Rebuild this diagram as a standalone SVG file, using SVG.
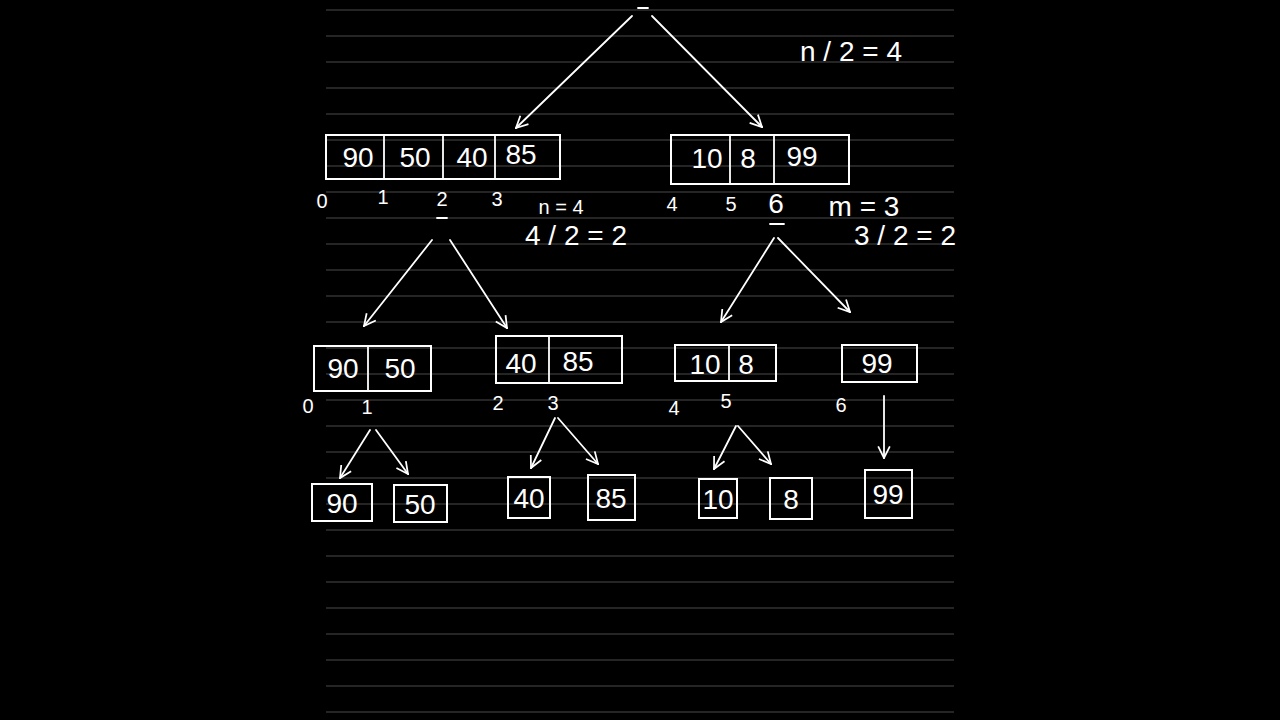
<svg xmlns="http://www.w3.org/2000/svg" width="1280" height="720" viewBox="0 0 1280 720">
<defs>
<style>
.rule{stroke:#4a4a4a;stroke-width:1}
.box{fill:none;stroke:#fff;stroke-width:2}
.ln{fill:none;stroke:#fff;stroke-width:1.8;stroke-linecap:round}
.t{fill:#fff;font-family:"Liberation Sans",sans-serif;font-size:28px;text-anchor:middle}
.s{fill:#fff;font-family:"Liberation Sans",sans-serif;font-size:20px;text-anchor:middle}
</style>
<marker id="ah" viewBox="0 0 12 12" refX="11" refY="6" markerWidth="14" markerHeight="14" markerUnits="userSpaceOnUse" orient="auto"><path d="M1,1 L11,6 L1,11" fill="none" stroke="#fff" stroke-width="1.5"/></marker>
</defs>
<rect width="1280" height="720" fill="#000"/>
<g id="rules">
<path class="rule" d="M326,10H954M326,36H954M326,62H954M326,88H954M326,114H954M326,140H954M326,166H954M326,192H954M326,218H954M326,244H954M326,270H954M326,296H954M326,322H954M326,348H954M326,374H954M326,400H954M326,426H954M326,452H954M326,478H954M326,504H954M326,530H954M326,556H954M326,582H954M326,608H954M326,634H954M326,660H954M326,686H954M326,712H954"/>
</g>
<g id="connectors">
<path class="ln" d="M638,8H648"/>
<path class="ln" d="M632,16L516,128" marker-end="url(#ah)"/>
<path class="ln" d="M652,16L762,127" marker-end="url(#ah)"/>
<path class="ln" d="M437,218H447"/>
<path class="ln" d="M432,240L364,326" marker-end="url(#ah)"/>
<path class="ln" d="M450,240L507,328" marker-end="url(#ah)"/>
<path class="ln" d="M770,224H784"/>
<path class="ln" d="M774,238L721,322" marker-end="url(#ah)"/>
<path class="ln" d="M778,238L850,312" marker-end="url(#ah)"/>
<path class="ln" d="M370,430L340,478" marker-end="url(#ah)"/>
<path class="ln" d="M376,430L408,474" marker-end="url(#ah)"/>
<path class="ln" d="M555,418L531,468" marker-end="url(#ah)"/>
<path class="ln" d="M558,418L598,464" marker-end="url(#ah)"/>
<path class="ln" d="M736,426L714,469" marker-end="url(#ah)"/>
<path class="ln" d="M738,426L771,464" marker-end="url(#ah)"/>
<path class="ln" d="M884,396V458" marker-end="url(#ah)"/>
</g>
<g id="arr8">
<rect class="box" x="326" y="135" width="234" height="44"/>
<path class="ln" d="M384,135V179M443,135V179M495,135V179"/>
<text class="t" x="358" y="167">90</text><text class="t" x="415" y="167">50</text><text class="t" x="472" y="167">40</text><text class="t" x="521" y="164">85</text>
<text class="s" x="322" y="208">0</text><text class="s" x="383" y="204">1</text><text class="s" x="442" y="206">2</text><text class="s" x="497" y="206">3</text>
</g>
<g id="arr3">
<rect class="box" x="671" y="135" width="178" height="49"/>
<path class="ln" d="M730,135V184M774,135V184"/>
<text class="t" x="707" y="168">10</text><text class="t" x="748" y="168">8</text><text class="t" x="802" y="166">99</text>
<text class="s" x="672" y="211">4</text><text class="s" x="731" y="211">5</text><text class="t" x="776" y="213">6</text>
</g>
<g id="notes">
<text class="t" x="851" y="61">n / 2 =  4</text>
<text class="s" x="561" y="214">n = 4</text>
<text class="t" x="576" y="245">4 / 2 = 2</text>
<text class="t" x="864" y="216">m = 3</text>
<text class="t" x="905" y="245">3 / 2 = 2</text>
</g>
<g id="a9050">
<rect class="box" x="314" y="346" width="117" height="45"/>
<path class="ln" d="M368,346V391"/>
<text class="t" x="343" y="378">90</text><text class="t" x="400" y="378">50</text>
<text class="s" x="308" y="413">0</text><text class="s" x="367" y="414">1</text>
</g>
<g id="a4085">
<rect class="box" x="496" y="336" width="126" height="47"/>
<path class="ln" d="M549,336V383"/>
<text class="t" x="521" y="373">40</text><text class="t" x="578" y="371">85</text>
<text class="s" x="498" y="410">2</text><text class="s" x="553" y="410">3</text>
</g>
<g id="a108">
<rect class="box" x="675" y="345" width="101" height="36"/>
<path class="ln" d="M729,345V381"/>
<text class="t" x="705" y="374">10</text><text class="t" x="746" y="374">8</text>
<text class="s" x="674" y="415">4</text><text class="s" x="726" y="408">5</text>
</g>
<g id="a99">
<rect class="box" x="842" y="345" width="75" height="37"/>
<text class="t" x="877" y="373">99</text>
<text class="s" x="841" y="412">6</text>
</g>
<g id="l90"><rect class="box" x="312" y="484" width="60" height="37"/><text class="t" x="342" y="513">90</text></g>
<g id="l50"><rect class="box" x="394" y="485" width="53" height="37"/><text class="t" x="420" y="514">50</text></g>
<g id="l40"><rect class="box" x="508" y="477" width="42" height="41"/><text class="t" x="529" y="508">40</text></g>
<g id="l85"><rect class="box" x="588" y="475" width="47" height="45"/><text class="t" x="611" y="508">85</text></g>
<g id="l10"><rect class="box" x="699" y="479" width="38" height="39"/><text class="t" x="718" y="509">10</text></g>
<g id="l8"><rect class="box" x="770" y="478" width="42" height="41"/><text class="t" x="791" y="509">8</text></g>
<g id="l99"><rect class="box" x="865" y="470" width="47" height="48"/><text class="t" x="888" y="504">99</text></g>
</svg>
